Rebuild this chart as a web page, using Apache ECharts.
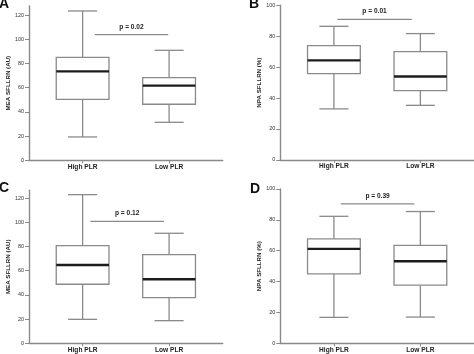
<!DOCTYPE html>
<html>
<head>
<meta charset="utf-8">
<script src="https://cdn.jsdelivr.net/npm/echarts@6/dist/echarts.min.js"></script>
<style>
html, body { margin: 0; padding: 0; background: #fff; }
#main { width: 474px; height: 354px; }
</style>
</head>
<body>
<div id="main"></div>
<script>
var groups = ['High PLR', 'Low PLR'];
var groupPos = [1, 2];

// each box: [min, Q1, median, Q3, max]
var boxA = [[19.3, 50.4, 73.5, 85.1, 123.4], [31.4, 46.3, 61.7, 68.3, 90.9]];
var boxB = [[33.0, 55.8, 64.4, 73.9, 86.4], [35.3, 44.8, 53.9, 70.0, 81.7]];
var boxC = [[19.8, 48.8, 64.7, 80.7, 122.8], [18.7, 37.7, 52.9, 73.2, 90.9]];
var boxD = [[16.8, 45.0, 61.2, 67.7, 82.3], [17.0, 37.7, 53.2, 63.4, 85.4]];

// p-value bars: [from, to, y]
var pBarA = [1.14, 1.99, 103.8];
var pBarB = [1.04, 1.90, 90.9];
var pBarC = [1.09, 1.94, 100.8];
var pBarD = [1.08, 1.93, 90.3];
var pText = ['p = 0.02', 'p = 0.01', 'p = 0.12', 'p = 0.39'];

var meaTicks = [0, 20, 40, 60, 80, 100, 120];
var npaTicks = [0, 20, 40, 60, 80, 100];
var meaTitle = 'MEA SFLLRN (AU)';
var npaTitle = 'NPA SFLLRN (%)';
var panelNames = ['A', 'B', 'C', 'D'];

var FONT = '"Liberation Sans", Arial, sans-serif';
var GREY = '#8a8a8a';

var chart = echarts.init(document.getElementById('main'));

//箱子
function renderBox(params, api) {
  var x = api.value(0);
  var c = [];
  for (var i = 1; i <= 5; i++) c.push(api.coord([x, api.value(i)]));
  var unit = api.size([1, 0])[0];
  var hw = unit * 0.305, cw = unit * 0.168;
  var cx = c[0][0];
  var st = { stroke: GREY, lineWidth: 1.3 };
  return {
    type: 'group',
    children: [
      { type: 'line', shape: { x1: cx, y1: c[0][1], x2: cx, y2: c[1][1] }, style: st },
      { type: 'line', shape: { x1: cx, y1: c[3][1], x2: cx, y2: c[4][1] }, style: st },
      { type: 'line', shape: { x1: cx - cw, y1: c[0][1], x2: cx + cw, y2: c[0][1] }, style: st },
      { type: 'line', shape: { x1: cx - cw, y1: c[4][1], x2: cx + cw, y2: c[4][1] }, style: st },
      { type: 'rect', shape: { x: cx - hw, y: c[3][1], width: hw * 2, height: c[1][1] - c[3][1] },
        style: { stroke: GREY, lineWidth: 1.3, fill: '#fff' } },
      { type: 'line', shape: { x1: cx - hw, y1: c[2][1], x2: cx + hw, y2: c[2][1] },
        style: { stroke: '#1c1c1c', lineWidth: 2.4 } }
    ]
  };
}

//p值
function pRenderer(text) {
  return function (params, api) {
    var a = api.coord([api.value(0), api.value(2)]);
    var b = api.coord([api.value(1), api.value(2)]);
    return {
      type: 'group',
      children: [
        { type: 'line', shape: { x1: a[0], y1: a[1], x2: b[0], y2: b[1] },
          style: { stroke: GREY, lineWidth: 1.2 } },
        { type: 'text', style: { text: text, x: (a[0] + b[0]) / 2, y: a[1] - 4.5,
          align: 'center', verticalAlign: 'bottom', fontSize: 6.6, fontWeight: 'bold',
          fontFamily: FONT, fill: '#222' } }
      ]
    };
  };
}

var grids = [
  { left: 29, top: 6, width: 193.7, height: 154.3 },
  { left: 280.3, top: 5.3, width: 193.7, height: 154.6 },
  { left: 29, top: 190.3, width: 193.7, height: 153 },
  { left: 280.3, top: 189, width: 193.7, height: 154.3 }
];
var yMax = [127.5, 100, 126.4, 100];
var yTicks = [meaTicks, npaTicks, meaTicks, npaTicks];
var yTitles = [meaTitle, npaTitle, meaTitle, npaTitle];
var boxes = [boxA, boxB, boxC, boxD];
var pBars = [pBarA, pBarB, pBarC, pBarD];

var xAxes = [], yAxes = [], series = [];
for (var k = 0; k < 4; k++) {
  xAxes.push({
    gridIndex: k, type: 'value', min: 0.38, max: 2.62,
    axisLine: { onZero: false, lineStyle: { color: GREY, width: 1.4 } },
    axisTick: { customValues: groupPos, length: 3, lineStyle: { color: GREY } },
    axisLabel: { customValues: groupPos, margin: 3, fontSize: 6.6, fontWeight: 'bold',
      fontFamily: FONT, color: '#222', formatter: function (v) { return groups[Math.round(v) - 1]; } },
    splitLine: { show: false }
  });
  yAxes.push({
    gridIndex: k, type: 'value', min: 0, max: yMax[k],
    name: yTitles[k], nameLocation: 'middle', nameGap: 16,
    nameTextStyle: { fontSize: 6.2, fontWeight: 'bold', fontFamily: FONT, color: '#222' },
    axisLine: { show: true, onZero: false, lineStyle: { color: GREY, width: 1.4 } },
    axisTick: { show: true, customValues: yTicks[k], length: 4, lineStyle: { color: GREY } },
    axisLabel: { customValues: yTicks[k], margin: 5, fontSize: 5.4, fontFamily: FONT, color: '#333' },
    splitLine: { show: false }
  });
  series.push({
    type: 'custom', xAxisIndex: k, yAxisIndex: k,
    data: boxes[k].map(function (b, i) { return [groupPos[i]].concat(b); }),
    encode: { x: 0, y: [1, 2, 3, 4, 5] },
    renderItem: renderBox, silent: true
  });
  series.push({
    type: 'custom', xAxisIndex: k, yAxisIndex: k,
    data: [pBars[k]], encode: { x: [0, 1], y: 2 },
    renderItem: pRenderer(pText[k]), silent: true
  });
}

var labelPos = [[-1, -3], [249, -3], [-1, 181], [250, 182]];
var option = {
  animation: false,
  grid: grids,
  xAxis: xAxes,
  yAxis: yAxes,
  series: series,
  graphic: labelPos.map(function (p, i) {
    return { type: 'text', left: p[0], top: p[1],
      style: { text: panelNames[i], fontSize: 14, fontWeight: 'bold', fontFamily: FONT, fill: '#111' } };
  })
};
chart.setOption(option);
</script>
</body>
</html>
